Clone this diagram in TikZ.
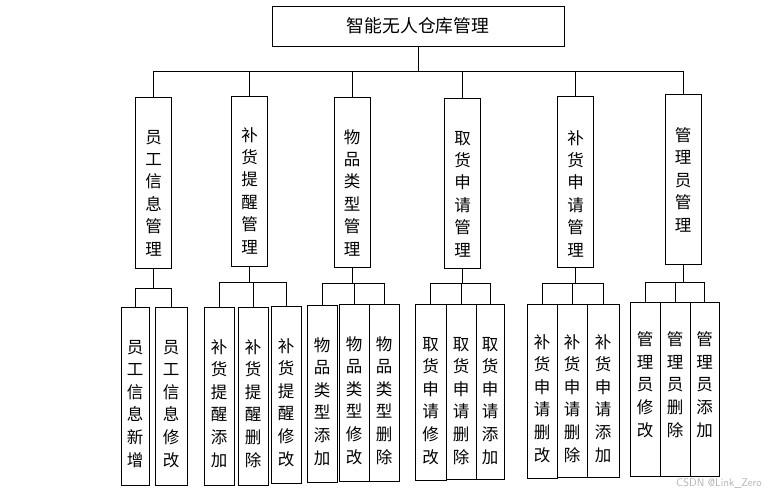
\documentclass[tikz,border=0pt]{standalone}
\usepackage{fontspec}
\newfontfamily\cjk{Noto Sans CJK SC}
\usepackage{tikz}
\usetikzlibrary{positioning}
\tikzset{
    topbox/.style = {rectangle, draw=black, line width=0.9pt, inner sep=0pt, minimum width=292pt, minimum height=40pt, font=\cjk\fontsize{17.8}{20}\selectfont},
    midbox/.style = {rectangle, draw=black, line width=0.9pt, inner sep=0pt, minimum width=36pt, text height=158pt, text depth=12pt, align=center, font=\cjk\fontsize{16.5}{22.4}\selectfont},
    leafbox/.style = {rectangle, draw=black, line width=0.9pt, inner sep=0pt, minimum width=30pt, text height=159pt, text depth=18pt, align=center, font=\cjk\fontsize{16.5}{22.6}\selectfont},
    line/.style = {draw=black, line width=0.9pt}
}
\begin{document}
\begin{tikzpicture}[x=1pt, y=-1pt]
\useasboundingbox (0,0) rectangle (783,496);

% root
\node (root) [topbox] at (418,26) {智能无人仓库管理};

% second level
\node (yg) [midbox, text depth=13pt] at (153.5,182.5) {员\\工\\信\\息\\管\\理};
\node (bt) [midbox, text height=157pt, text depth=13pt] at (249.5,181) {补\\货\\提\\醒\\管\\理};
\node (wp) [midbox] at (352,182) {物\\品\\类\\型\\管\\理};
\node (qh) [midbox] at (462.5,183) {取\\货\\申\\请\\管\\理};
\node (bh) [midbox, text height=160pt, text depth=11pt] at (575.5,181.5) {补\\货\\申\\请\\管\\理};
\node (gl) [midbox, text height=137pt, text depth=33pt] at (683,179) {管\\理\\员\\管\\理};

% third level
\node (ygxz) [leafbox, minimum width=28pt, text depth=19pt] at (135,396) {员\\工\\信\\息\\新\\增};
\node (ygxg) [leafbox, minimum width=32pt, text depth=19pt] at (171,396) {员\\工\\信\\息\\修\\改};

\node (bttj) [leafbox, text depth=19pt] at (219,396) {补\\货\\提\\醒\\添\\加};
\node (btsc) [leafbox, text depth=19pt] at (253,396) {补\\货\\提\\醒\\删\\除};
\node (btxg) [leafbox] at (286,394.5) {补\\货\\提\\醒\\修\\改};

\node (wptj) [leafbox] at (322,393.5) {物\\品\\类\\型\\添\\加};
\node (wpxg) [leafbox] at (354,392.5) {物\\品\\类\\型\\修\\改};
\node (wpsc) [leafbox] at (384,392.5) {物\\品\\类\\型\\删\\除};

\node (qhxg) [leafbox, minimum width=31pt, text depth=17pt] at (430.5,392) {取\\货\\申\\请\\修\\改};
\node (qhsc) [leafbox, text depth=16pt] at (461,391.5) {取\\货\\申\\请\\删\\除};
\node (qhtj) [leafbox, minimum width=28pt, text depth=16pt] at (490,391.5) {取\\货\\申\\请\\添\\加};

\node (bhsg) [leafbox, text height=157pt, text depth=17pt] at (542,391) {补\\货\\申\\请\\删\\改};
\node (bhsc) [leafbox, text height=157pt, text depth=16pt] at (572,390.5) {补\\货\\申\\请\\删\\除};
\node (bhtj) [leafbox, minimum width=32pt, text height=157pt, text depth=16pt] at (603,390.5) {补\\货\\申\\请\\添\\加};

\node (glxg) [leafbox, text height=134pt, text depth=40pt] at (645,389) {管\\理\\员\\修\\改};
\node (glsc) [leafbox, text height=134pt, text depth=40pt] at (675,389) {管\\理\\员\\删\\除};
\node (gltj) [leafbox, minimum width=29pt, text height=134pt, text depth=40pt] at (704.5,389) {管\\理\\员\\添\\加};

\node (mark) [text=black!30, font=\sffamily\fontsize{11}{12}\selectfont] at (719,483) {CSDN @Link\_Zero};

% bus lines
\coordinate (bus) at (0,71);
\coordinate (b1) at (0,288);
\coordinate (b2) at (0,282);
\coordinate (b3) at (0,283);
\coordinate (b4) at (0,283);
\coordinate (b5) at (0,283);
\coordinate (b6) at (0,282);

\draw [line] (root.south) -- (root.south |- bus);
\draw [line] (yg.north |- bus) -- (gl.north |- bus);
\draw [line] (yg.north |- bus) -- (yg.north);
\draw [line] (bt.north |- bus) -- (bt.north);
\draw [line] (wp.north |- bus) -- (wp.north);
\draw [line] (qh.north |- bus) -- (qh.north);
\draw [line] (bh.north |- bus) -- (bh.north);
\draw [line] (gl.north |- bus) -- (gl.north);

\draw [line] (yg.south) -- (yg.south |- b1);
\draw [line] (ygxz.north) |- (ygxg.north |- b1) -- (ygxg.north);

\draw [line] (bt.south) -- (bt.south |- b2);
\draw [line] (bttj.north) |- (btxg.north |- b2) -- (btxg.north);
\draw [line] (btsc.north |- b2) -- (btsc.north);

\draw [line] (wp.south) -- (wp.south |- b3);
\draw [line] (wptj.north) |- (wpsc.north |- b3) -- (wpsc.north);
\draw [line] (wpxg.north |- b3) -- (wpxg.north);

\draw [line] (qh.south) -- (qh.south |- b4);
\draw [line] (qhxg.north) |- (qhtj.north |- b4) -- (qhtj.north);
\draw [line] (qhsc.north |- b4) -- (qhsc.north);

\draw [line] (bh.south) -- (bh.south |- b5);
\draw [line] (bhsg.north) |- (bhtj.north |- b5) -- (bhtj.north);
\draw [line] (bhsc.north |- b5) -- (bhsc.north);

\draw [line] (gl.south) -- (gl.south |- b6);
\draw [line] (glxg.north) |- (gltj.north |- b6) -- (gltj.north);
\draw [line] (glsc.north |- b6) -- (glsc.north);
\end{tikzpicture}
\end{document}
